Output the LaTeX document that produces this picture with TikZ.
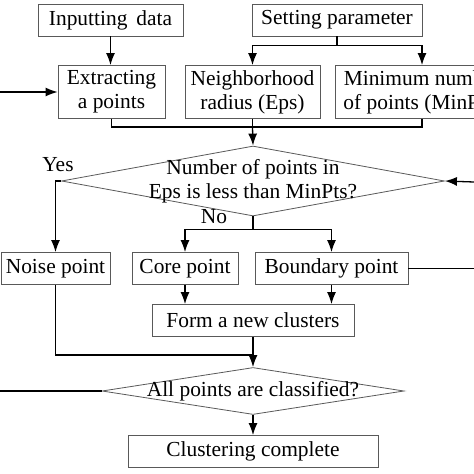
\documentclass[tikz,border=0pt]{standalone}
\usepackage{fontspec}
\setmainfont{Liberation Serif}
\usepackage{tikz}
\usetikzlibrary{arrows.meta}
\usetikzlibrary{shapes.geometric}
\usetikzlibrary{calc}

\begin{document}
\begin{tikzpicture}[x=1bp,y=-1bp,
        font=\fontsize{21.5}{24}\selectfont,
        box/.style={draw=black!65,line width=0.8bp,inner sep=0pt,align=center,minimum height=32bp},
        dia/.style={diamond,draw=black!65,line width=0.8bp,inner sep=0pt},
        line/.style={line width=1.3bp,draw=black},
        arr/.style={line,-{Latex[length=12bp,width=9bp]}}]
        \useasboundingbox (0,0) rectangle (474,474);

        %%% BOXES %%%
        \node[box,minimum width=145bp] (inp) at (110.5,20) {Inputting\ \,data};
        \node[box,minimum width=170bp] (setp) at (337,20) {Setting parameter};
        \node[box,minimum width=107bp,minimum height=53bp] (ext) at (111.5,92) {Extracting\\a points};
        \node[box,minimum width=135bp,minimum height=53bp] (nbr) at (252.5,92) {Neighborhood\\radius (Eps)};
        \node[box,minimum width=174bp,minimum height=53bp] (minp) at (422,92) {Minimum number\\of points (MinPts)};

        %%% FIRST DECISION %%%
        \node[dia,minimum width=383bp,minimum height=70bp] (d1) at (253,181) {};
        \node[align=center] (d1t) at (253,181) {Number of points in\\Eps is less than MinPts?};

        \node[box,minimum width=109bp] (noise) at (55.5,268.5) {Noise point};
        \node[box,minimum width=106bp] (core) at (185,268.5) {Core point};
        \node[box,minimum width=153bp] (bnd) at (331.5,268.5) {Boundary point};
        \node[box,minimum width=202bp] (form) at (253,320.5) {Form a new clusters};

        %%% SECOND DECISION %%%
        \node[dia,minimum width=302bp,minimum height=47bp] (d2) at (253,391) {};
        \node (d2t) at (253,391) {All points are classified?};
        \node[box,minimum width=250bp] (clus) at (253,451.5) {Clustering complete};

        %%% CONNECTORS %%%
        \coordinate (lin) at (0,92);
        \coordinate (rin) at (474,182);
        \coordinate (rout) at (474,268.5);
        \coordinate (lout) at (0,391);

        \draw[arr] (inp.south) -- (inp.south |- ext.north);
        \draw[line] (setp.south) -- ++(0,9) coordinate (sp);
        \draw[arr] (sp) -| (nbr.north);
        \draw[arr] (sp) -| (minp.north);
        \draw[arr] (lin) -- (ext.west);

        \draw[line] (ext.south) |- ($(nbr.south)+(0,8)$) coordinate (j1) -| (minp.south);
        \draw[line] (nbr.south) -- (j1);
        \draw[arr] (j1) -- (d1.north);
        \draw[arr] (rin) -- (d1.east);

        \draw[arr] (d1.west) -| (noise.north);
        \node (yes) at (58,165) {Yes};
        \draw[line] (d1.south) -- ++(0,13) coordinate (j2);
        \node (no) at (214,217) {No};
        \draw[arr] (j2) -| (core.north);
        \draw[arr] (j2) -| (bnd.north);
        \draw[line] (bnd.east) -- (rout);

        \draw[arr] (core.south) -- (form.north -| core.south);
        \draw[arr] (bnd.south) -- (form.north -| bnd.south);
        \draw[line] (noise.south) |- (form.south |- 0,355) coordinate (j3);
        \draw[arr] (form.south) -- (d2.north);
        \draw[line] (d2.west) -- (lout);
        \draw[arr] (d2.south) -- (clus.north);
    \end{tikzpicture}
\end{document}
